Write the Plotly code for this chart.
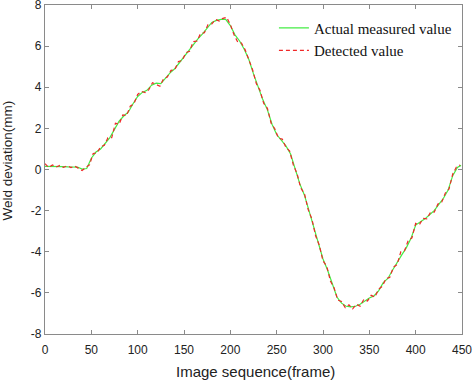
import plotly.graph_objects as go

# Actual measured value (green), sampled every 5 frames
actual_frames = list(range(0, 450, 5)) + [449]
actual_values = [
    0.15, 0.15, 0.17, 0.15, 0.14, 0.13, 0.14, 0.12, 0.02, 0.05,
    0.55, 0.85, 1.00, 1.30, 1.55, 1.95, 2.35, 2.60, 2.80, 3.20,
    3.55, 3.75, 3.85, 4.10, 4.20, 4.18, 4.45, 4.70, 4.90, 5.20,
    5.45, 5.75, 6.10, 6.35, 6.60, 6.90, 7.15, 7.25, 7.30, 7.30,
    7.00, 6.55, 6.25, 5.85, 5.35, 4.65, 4.00, 3.40, 2.90, 2.20,
    1.70, 1.45, 1.15, 0.75, 0.00, -0.70, -1.25, -2.00, -2.80, -3.60,
    -4.35, -4.90, -5.60, -6.20, -6.50, -6.65, -6.68, -6.65, -6.55, -6.40,
    -6.25, -6.15, -5.90, -5.50, -5.30, -4.90, -4.50, -4.15, -3.80, -3.35,
    -2.70, -2.55, -2.40, -2.20, -2.00, -1.70, -1.40, -1.00, -0.30, 0.10,
    0.20,
]

# Detected value (red dashed), sampled every 4 frames
detected_frames = list(range(0, 449, 4))
detected_values = [
    0.28, 0.10, 0.22, 0.12, 0.20, 0.10, 0.18, 0.09, 0.17, 0.06,
    -0.05, 0.10, 0.22, 0.78, 0.80, 1.10, 1.18, 1.55, 1.55, 2.25,
    2.20, 2.65, 2.62, 3.08, 3.20, 3.65, 3.80, 3.74, 3.88, 4.22,
    4.15, 4.05, 4.42, 4.50, 4.82, 4.85, 5.25, 5.30, 5.68, 5.75,
    6.22, 6.25, 6.62, 6.65, 7.05, 7.08, 7.30, 7.22, 7.35, 7.40,
    7.05, 6.55, 6.20, 6.15, 5.82, 5.28, 4.85, 4.18, 3.85, 3.22,
    2.98, 2.25, 1.98, 1.52, 1.48, 1.08, 0.90, 0.22, -0.20, -0.90,
    -1.18, -1.95, -2.40, -3.22, -3.68, -4.45, -4.70, -5.42, -5.76, -6.35,
    -6.42, -6.72, -6.58, -6.78, -6.55, -6.65, -6.32, -6.40, -6.12, -6.20,
    -5.82, -5.68, -5.30, -5.25, -4.75, -4.62, -4.00, -3.95, -3.45, -3.32,
    -2.62, -2.68, -2.38, -2.40, -2.08, -2.08, -1.68, -1.60, -1.15, -0.95,
    -0.22, 0.12, 0.22,
]

x_ticks = [0, 50, 100, 150, 200, 250, 300, 350, 400, 450]
y_ticks = [-8, -6, -4, -2, 0, 2, 4, 6, 8]
x_title = "Image sequence(frame)"
y_title = "Weld deviation(mm)"

fig = go.Figure()
fig.add_trace(go.Scatter(
    x=actual_frames, y=actual_values, mode="lines",
    name="Actual measured value",
    line=dict(color="#44ec44", width=1.2),
))
fig.add_trace(go.Scatter(
    x=detected_frames, y=detected_values, mode="lines",
    name="Detected value",
    line=dict(color="#f02828", width=1.2, dash="4px,3px"),
))

axis_common = dict(
    showline=True, linecolor="#8a8a8a", linewidth=1.2, mirror="ticks",
    ticks="inside", ticklen=4, tickcolor="#8a8a8a", tickwidth=1,
    showgrid=False, zeroline=False, automargin=False,
    ticklabeloverflow="allow",
    tickfont=dict(family="Liberation Sans, Arial", size=12, color="#222"),
)

fig.update_xaxes(range=[0, 450], tickvals=x_ticks,
                 ticktext=[str(v) for v in x_ticks],
                 ticklabelstandoff=4, **axis_common)
fig.update_yaxes(range=[-8, 8], tickvals=y_ticks,
                 ticktext=[str(v) for v in y_ticks], **axis_common)

fig.add_annotation(
    text=x_title, xref="paper", yref="paper", x=0.5, y=0,
    xanchor="center", yanchor="middle", xshift=2, yshift=-37,
    showarrow=False,
    font=dict(family="Liberation Sans, Arial", size=15, color="#222"),
)
fig.add_annotation(
    text=y_title, xref="paper", yref="paper", x=0, y=0.5,
    xanchor="center", yanchor="middle", xshift=-38, yshift=9,
    textangle=-90, showarrow=False,
    font=dict(family="Liberation Sans, Arial", size=13.5, color="#222"),
)

fig.update_layout(
    width=474, height=382,
    margin=dict(l=45, r=12, t=5, b=48),
    paper_bgcolor="white", plot_bgcolor="white",
    showlegend=True,
    legend=dict(
        x=0.549, y=0.98, xanchor="left", yanchor="top",
        bgcolor="rgba(0,0,0,0)", borderwidth=0,
        font=dict(family="Liberation Serif, Times New Roman", size=15, color="#111"),
        itemwidth=30,
    ),
)

fig.write_html("out.html", config={"displayModeBar": False},
               post_script="document.body.style.margin='0';")
